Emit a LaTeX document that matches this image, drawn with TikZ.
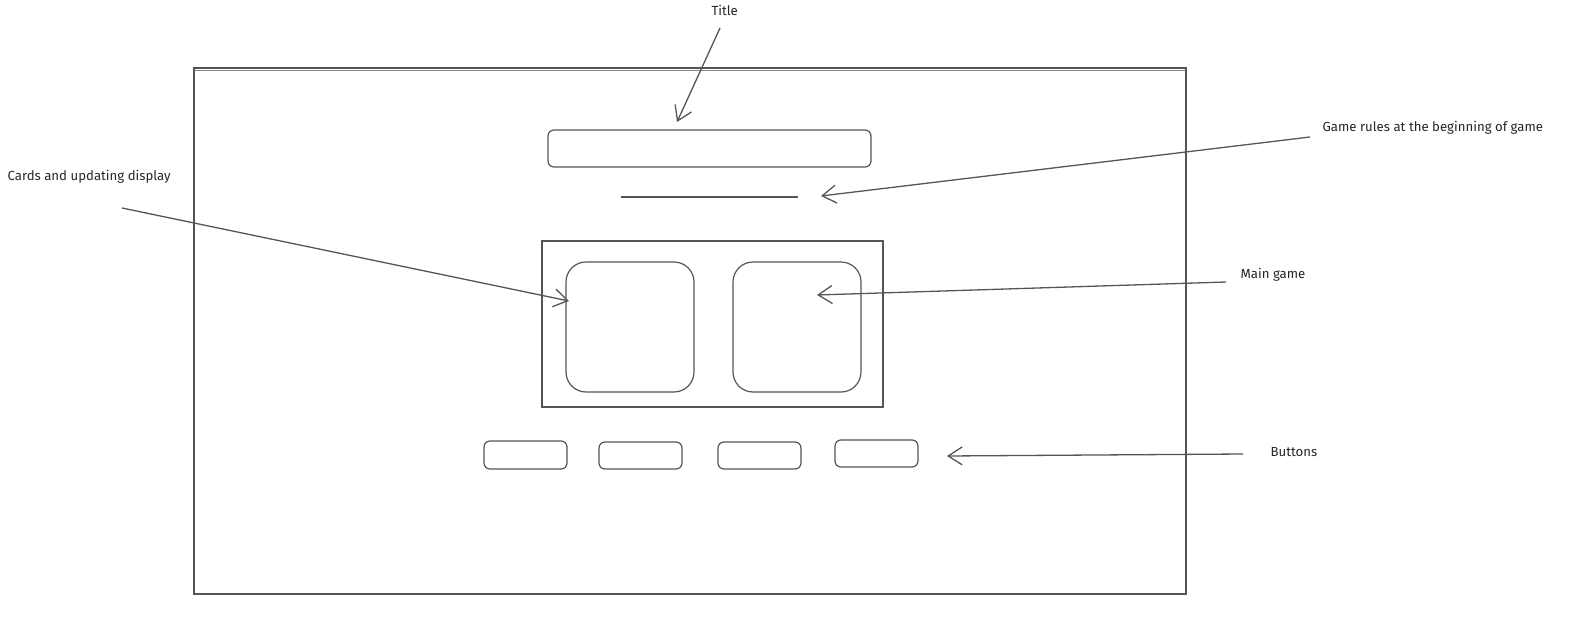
\documentclass[tikz,border=0pt]{standalone}
\usepackage{fontspec}
\setmainfont{Fira Sans}
\usetikzlibrary{arrows.meta}
\definecolor{pen}{HTML}{555555}
\begin{document}
\begin{tikzpicture}[x=0.5pt,y=-0.5pt,
  line width=0.6pt,draw=pen,
  note/.style={anchor=west,inner sep=0pt,font=\fontsize{6.6}{8}\selectfont,text=black!85},
  pointer/.style={-{Straight Barb[length=7pt,width=9pt]},line width=0.65pt,pen},
  btn/.style={draw=pen,rounded corners=3pt},
  card/.style={draw=pen,rounded corners=10pt}]
\useasboundingbox (0,0) rectangle (1590,637);
% screen
\draw[pen] (194,68) rectangle (1186,594);
\draw[pen!70,line width=0.3pt] (195,70) -- (1185,70);
% title bar and rules line
\draw[btn] (548,130) rectangle (871,167);
\draw[pen] (621,197) -- (798,197);
% main game area
\draw[pen] (542,241) rectangle (883,407);
\draw[card] (566,262) rectangle (694,392);
\draw[card] (733,262) rectangle (861,392);
% buttons
\draw[btn] (484,441) rectangle (567,469);
\draw[btn] (599,442) rectangle (682,469);
\draw[btn] (718,442) rectangle (801,469);
\draw[btn] (835,440) rectangle (918,467);
%
\node[note] (title) at (711,10) {Title};
\node[note] (rules) at (1322,128) {Game rules at the beginning of game};
\node[note] (cards) at (7,177) {Cards and updating display};
\node[note] (main) at (1240,275) {Main game};
\node[note] (buttons) at (1270,452) {Buttons};
%
\coordinate (titletail) at (720,28);
\coordinate (titlehead) at (677,122);
\coordinate (rulestail) at (1310,137);
\coordinate (ruleshead) at (821,196);
\coordinate (cardstail) at (122,208);
\coordinate (cardshead) at (569,301);
\coordinate (maintail) at (1226,282);
\coordinate (mainhead) at (817,295);
\coordinate (btntail) at (1243,454);
\coordinate (btnhead) at (947,456);
\draw[pointer] (titletail) -- (titlehead);
\draw[pointer] (rulestail) -- (ruleshead);
\draw[pointer] (cardstail) -- (cardshead);
\draw[pointer] (maintail) -- (mainhead);
\draw[pointer] (btntail) -- (btnhead);
\end{tikzpicture}
\end{document}
